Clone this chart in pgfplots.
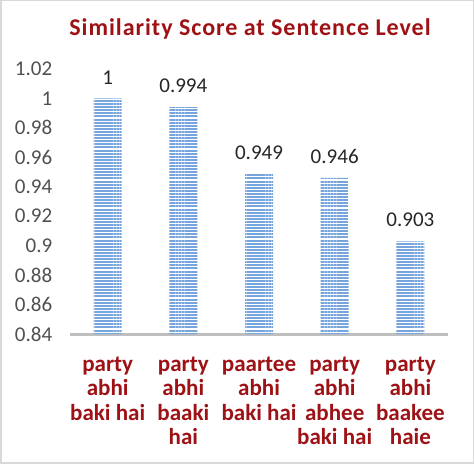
\documentclass[border=0pt]{standalone}
\usepackage{fontspec}
\setmainfont{Carlito}
\usepackage{pgfplots}
\pgfplotsset{compat=1.18}
\usetikzlibrary{patterns.meta}
\definecolor{titlered}{RGB}{158,18,22}
\definecolor{barblue}{RGB}{118,165,222}
\definecolor{axisgray}{RGB}{191,191,191}
\definecolor{textgray}{RGB}{80,80,80}
\definecolor{framegray}{RGB}{217,217,217}
\begin{document}
\begin{tikzpicture}
\begin{axis}[
  scale only axis,
  width=378pt, height=265pt,
  xmin=-0.5, xmax=4.5,
  ymin=0.84, ymax=1.02,
  ytick={0.84,0.86,...,1.021},
  xtick={0,1,2,3,4},
  xticklabels={{party\\abhi\\baki hai},{party\\abhi\\baaki\\hai},{paartee\\abhi\\baki hai},{party\\abhi\\abhee\\baki hai},{party\\abhi\\baakee\\haie}},
  xticklabel style={font=\fontsize{23}{24.5}\selectfont\bfseries, text=titlered, align=center, anchor=north, yshift=-19pt},
  yticklabel style={font=\fontsize{21}{22}\selectfont, text=textgray, /pgf/number format/fixed, /pgf/number format/precision=2, anchor=east, xshift=-14pt},
  /pgf/number format/assume math mode=true,
  major tick length=0pt,
  axis x line*=bottom,
  axis y line*=left,
  x axis line style={draw=axisgray, line width=3pt, -},
  y axis line style={draw=none},
  title={\addfontfeature{LetterSpace=4}Similarity Score at Sentence Level},
  title style={font=\fontsize{24}{26}\selectfont\bfseries, text=titlered, at={(rel axis cs:0.5,1)}, anchor=center, yshift=34pt, xshift=-9pt},
  ybar, bar width=28pt,
  nodes near coords,
  nodes near coords style={font=\fontsize{21}{22}\selectfont, text=black!85, anchor=center, yshift=21pt, /pgf/number format/fixed, /pgf/number format/precision=3},
  clip=false,
]
\addplot[draw=none, pattern={Lines[angle=0, distance=3.1pt, line width=2pt]}, pattern color=barblue]
  coordinates {(0,1) (1,0.994) (2,0.949) (3,0.946) (4,0.903)};
\end{axis}
\draw[framegray, line width=1.5pt] ([shift={(-69pt,-129pt)}]current axis.south west) rectangle ([shift={(403pt,333pt)}]current axis.south west);
\end{tikzpicture}
\end{document}
